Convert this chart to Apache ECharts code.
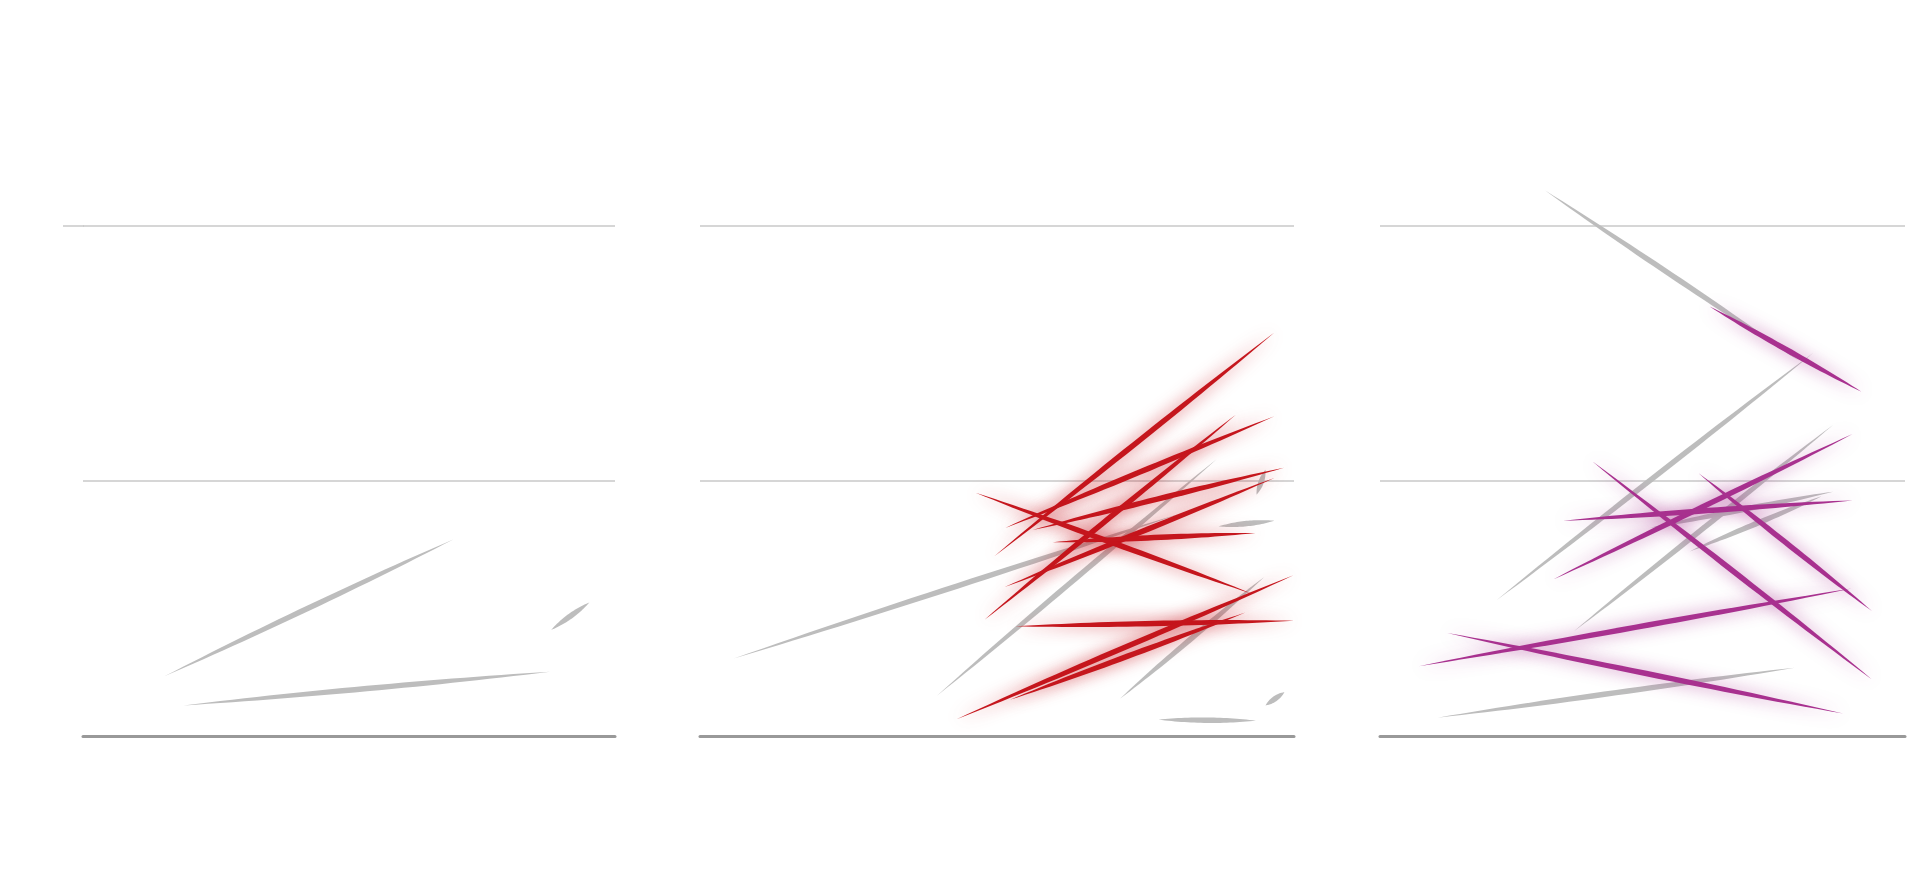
<!DOCTYPE html>
<html>
<head>
<meta charset="utf-8">
<script src="https://cdn.jsdelivr.net/npm/echarts@6/dist/echarts.min.js"></script>
<style>html,body{margin:0;padding:0;background:#fff;}#c{width:1920px;height:870px;}</style>
</head>
<body>
<div id="c"></div>
<script>
// Each needle: [x1, y1, x2, y2] in data units (x 0-100 per panel, y 0-100)
const panel1Gray = [
  [15.3, 11.7, 69.7, 38.6],
  [18.9, 6.0, 87.8, 12.6],
  [88.0, 20.8, 95.2, 26.2]
];
const panel1Color = [];

const panel2Gray = [
  [5.7, 15.2, 81.1, 43.7],
  [39.9, 7.9, 87.0, 54.3],
  [70.7, 7.3, 95.0, 31.2],
  [93.7, 47.3, 95.2, 52.2],
  [87.3, 41.1, 96.7, 42.2],
  [95.2, 6.0, 98.4, 8.6],
  [77.2, 3.2, 93.6, 3.0]
];
const panel2Color = [
  [49.5, 35.2, 96.7, 79.1],
  [51.4, 40.8, 96.7, 62.7],
  [47.9, 22.8, 90.2, 63.0],
  [56.0, 40.4, 98.3, 52.6],
  [51.3, 29.2, 96.7, 50.6],
  [46.4, 47.7, 92.9, 27.9],
  [59.4, 38.0, 93.5, 39.8],
  [53.1, 21.5, 100.0, 22.6],
  [43.2, 3.3, 99.9, 31.5],
  [52.2, 7.1, 91.8, 24.2]
];

const panel3Gray = [
  [31.4, 107.0, 79.8, 73.6],
  [22.2, 26.6, 82.5, 75.1],
  [36.9, 20.5, 86.3, 61.0],
  [59.0, 36.2, 84.1, 47.0],
  [11.0, 3.6, 79.0, 13.4],
  [51.4, 40.8, 86.3, 47.9]
];
const panel3Color = [
  [62.8, 84.2, 91.7, 67.5],
  [33.0, 30.7, 90.0, 59.2],
  [34.9, 42.2, 90.0, 46.2],
  [40.5, 53.8, 93.7, 11.1],
  [60.7, 51.5, 93.7, 24.5],
  [7.4, 13.7, 89.8, 28.9],
  [12.8, 20.2, 88.2, 4.4]
];

const yTicks = [0, 50, 100];

const GRAY = '#bdbdbd';
const RED = '#c5161d';
const PURPLE = '#a8318f';

function needleRenderer(fill, glow, blur) {
  return function (params, api) {
    const p0 = api.coord([api.value(0), api.value(1)]);
    const p2 = api.coord([api.value(2), api.value(3)]);
    const dx = p2[0] - p0[0], dy = p2[1] - p0[1];
    const len = Math.sqrt(dx * dx + dy * dy) || 1;
    const nx = -dy / len, ny = dx / len;
    const W = 5.5;
    const mx = (p0[0] + p2[0]) / 2, my = (p0[1] + p2[1]) / 2;
    const pts = [];
    const N = 30;
    for (let s = 0; s < 2; s++) {
      const sg = s === 0 ? 1 : -1;
      const cx = mx + nx * W * sg, cy = my + ny * W * sg;
      for (let k = 0; k <= N; k++) {
        let t = k / N;
        if (s === 1) t = 1 - t;
        const a = (1 - t) * (1 - t), b = 2 * t * (1 - t), c = t * t;
        pts.push([a * p0[0] + b * cx + c * p2[0], a * p0[1] + b * cy + c * p2[1]]);
      }
    }
    return {
      type: 'polygon',
      shape: { points: pts },
      style: { fill: fill, shadowBlur: blur, shadowColor: glow }
    };
  };
}

const grids = [
  { left: 83, width: 532, top: 226, height: 510 },
  { left: 700, width: 594, top: 226, height: 510 },
  { left: 1380, width: 525, top: 226, height: 510 }
];

const xAxes = grids.map((g, i) => ({
  type: 'value', gridIndex: i, min: 0, max: 100,
  axisLine: { show: true, onZero: false, lineStyle: { color: '#999999', width: 3 } },
  axisTick: { show: false }, axisLabel: { show: false }, splitLine: { show: false }
}));
const yAxes = grids.map((g, i) => ({
  type: 'value', gridIndex: i, min: yTicks[0], max: yTicks[yTicks.length - 1], interval: yTicks[1] - yTicks[0],
  axisLine: { show: false }, axisTick: { show: false }, axisLabel: { show: false },
  splitLine: { show: true, lineStyle: { color: '#c9c9c9', width: 1.5 } }
}));

const panels = [
  [panel1Gray, panel1Color, RED, 'rgba(200,20,30,0.75)'],
  [panel2Gray, panel2Color, RED, 'rgba(200,20,30,0.75)'],
  [panel3Gray, panel3Color, PURPLE, 'rgba(168,49,143,0.7)']
];

const series = [];
panels.forEach((p, i) => {
  series.push({
    type: 'custom', xAxisIndex: i, yAxisIndex: i, clip: false, z: 2,
    renderItem: needleRenderer(GRAY, 'rgba(0,0,0,0)', 0),
    encode: { x: [0, 2], y: [1, 3] }, data: p[0], silent: true
  });
  series.push({
    type: 'custom', xAxisIndex: i, yAxisIndex: i, clip: false, z: 3,
    renderItem: needleRenderer(p[2], p[3], 16),
    encode: { x: [0, 2], y: [1, 3] }, data: p[1], silent: true
  });
});

const chart = echarts.init(document.getElementById('c'), null, { renderer: 'canvas' });
chart.setOption({
  animation: false,
  backgroundColor: '#ffffff',
  grid: grids,
  xAxis: xAxes,
  yAxis: yAxes,
  series: series,
  graphic: [{
    type: 'line', shape: { x1: 63, y1: 226, x2: 84, y2: 226 },
    style: { stroke: '#c9c9c9', lineWidth: 1.5 }, silent: true
  }]
});
</script>
</body>
</html>
